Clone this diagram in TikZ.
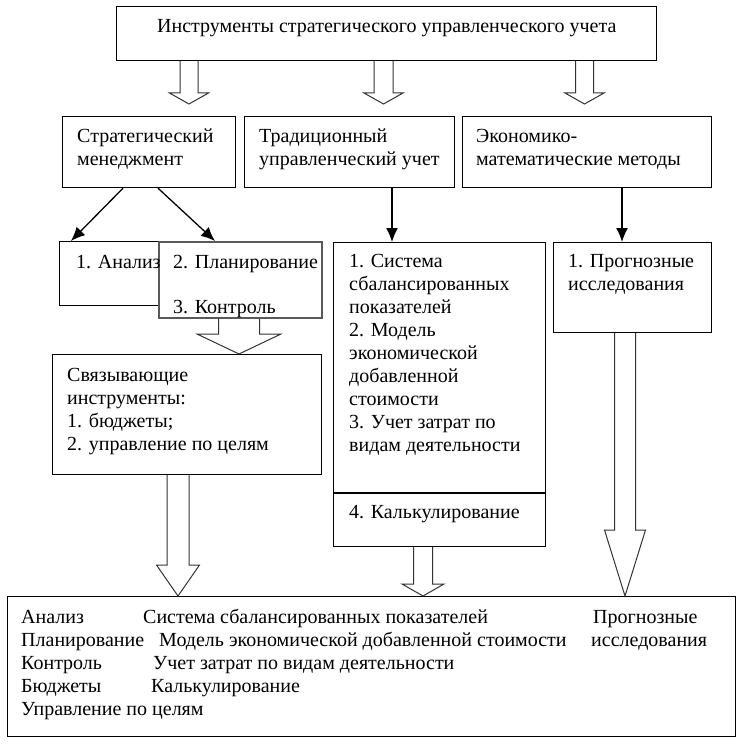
\documentclass[tikz,border=0pt]{standalone}
\usepackage{fontspec}
\setmainfont{Liberation Serif}
\usetikzlibrary{arrows.meta,calc}

% hollow block arrow: from, to, x, gap, shaft half, head half, head length
\newcommand{\fatarrow}[7]{%
  \draw[fat] let \p1=(#1.south), \p2=(#2.north) in
    ({(#3-#5)*1pt},\y1) -- ({(#3-#5)*1pt},{\y2+(#4+#7)*1pt})
    -- ({(#3-#6)*1pt},{\y2+(#4+#7)*1pt}) -- ({#3*1pt},{\y2+#4*1pt})
    -- ({(#3+#6)*1pt},{\y2+(#4+#7)*1pt}) -- ({(#3+#5)*1pt},{\y2+(#4+#7)*1pt})
    -- ({(#3+#5)*1pt},\y1);}

\begin{document}
\begin{tikzpicture}[x=1pt,y=-1pt,
    box/.style={draw,line width=1.2pt,anchor=north west,inner sep=0pt,fill=white},
    txt/.style={anchor=base west,inner sep=0pt,align=left,font=\fontsize{20}{23}\selectfont},
    fat/.style={line width=1pt,draw=black!80},
    thin/.style={-{Latex[length=14pt,width=12pt]},line width=1.3pt}]
  \useasboundingbox (0,0) rectangle (752,746);

  \node[box,minimum width=540pt,minimum height=54pt]  (top)   at (116,6)   {};
  \node[box,minimum width=173pt,minimum height=71pt]  (sm)    at (62,116)  {};
  \node[box,minimum width=210pt,minimum height=71pt]  (trad)  at (244,116) {};
  \node[box,minimum width=249pt,minimum height=71pt]  (econ)  at (462,116) {};
  \node[box,minimum width=120pt,minimum height=64pt]  (an)    at (59,241)  {};
  \node[box,minimum width=163pt,minimum height=76pt,draw=black!65,line width=1.6pt] (plan) at (158,241) {};
  \node[box,minimum width=212pt,minimum height=304pt] (mid)   at (333,242) {};
  \node[box,minimum width=158pt,minimum height=90pt]  (progn) at (553,242) {};
  \node[box,minimum width=269pt,minimum height=120pt] (svyaz) at (52,354)  {};
  \node[box,minimum width=728pt,minimum height=140pt] (bottom) at (7,596)  {};
  \draw[line width=1.8pt] (mid.west |- 0,493) -- (mid.east |- 0,493);

  % base = baseline of the last line
  \node[txt] (ttop)   at (157,33)  {Инструменты стратегического управленческого учета};
  \node[txt] (tsm)    at (77,166)  {Стратегический\\менеджмент};
  \node[txt] (ttrad)  at (259,166) {Традиционный\\управленческий учет};
  \node[txt] (tecon)  at (476,166) {Экономико-\\математические методы};
  \node[txt] (tan)    at (76,268)  {1. Анализ};
  \node[txt] (tplan)  at (173,313) {2. Планирование\\[22pt]3. Контроль};
  \node[txt] (tmid)   at (349,451) {1. Система\\сбалансированных\\показателей\\2. Модель\\экономической\\добавленной\\стоимости\\3. Учет затрат по\\видам деятельности};
  \node[txt] (tcalc)  at (349,518) {4. Калькулирование};
  \node[txt] (tprogn) at (568,290) {1. Прогнозные\\исследования};
  \node[txt] (tsvyaz) at (67,450)  {Связывающие\\инструменты:\\1. бюджеты;\\2. управление по целям};
  \node[txt] (tcol1)  at (21,715)  {Анализ\\Планирование\\Контроль\\Бюджеты\\Управление по целям};
  \node[txt] (tcol2)  at (143,692) {Система сбалансированных показателей\\\hspace*{16pt}Модель экономической добавленной стоимости\\\hspace*{10pt}Учет затрат по видам деятельности\\\hspace*{8pt}Калькулирование};
  \node[txt] (tcol3)  at (591,646) {\hspace*{2pt}Прогнозные\\исследования};

  \draw[thin] (sm.south -| 123,0)   -- (an.north -| 71,0);
  \draw[thin] (sm.south -| 158,0)   -- (plan.north -| 215,0);
  \draw[thin] (trad.south -| 392,0) -- (mid.north -| 392,0);
  \draw[thin] (econ.south -| 622,0) -- (progn.north -| 622,0);

  \fatarrow{top}{sm}{189}{12}{9}{19.5}{11}
  \fatarrow{top}{trad}{383.5}{12}{9.5}{19.5}{11}
  \fatarrow{top}{econ}{584.5}{12}{9}{19.5}{11}
  \fatarrow{plan}{svyaz}{239}{0}{20.5}{42}{20}
  \fatarrow{svyaz}{bottom}{178}{0}{11}{21.5}{31}
  \fatarrow{mid}{bottom}{423}{0}{9.5}{21}{12}
  \fatarrow{progn}{bottom}{625}{0}{10.5}{20.5}{66}
\end{tikzpicture}
\end{document}
